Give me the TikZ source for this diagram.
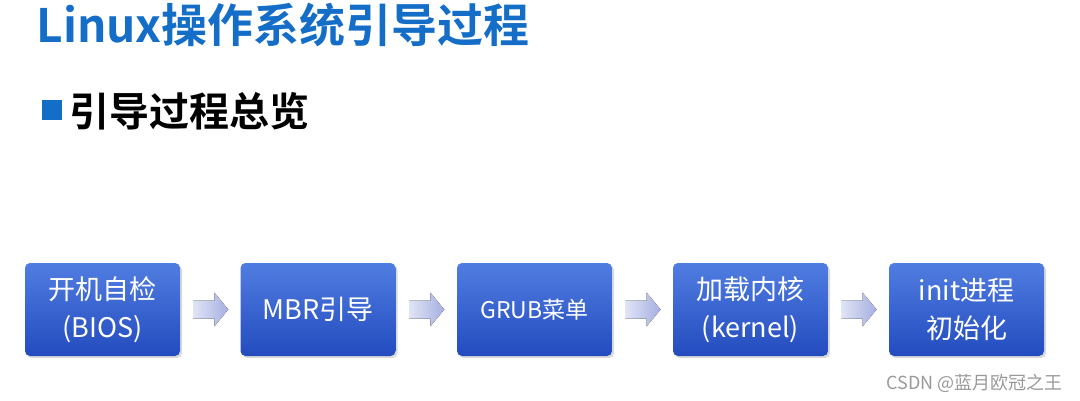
\documentclass[tikz,border=0pt]{standalone}
\usepackage{fontspec}
\setmainfont{Noto Sans CJK SC}
\newfontfamily\cjkb{Noto Sans CJK SC Bold}
\usetikzlibrary{shadows}
\definecolor{titleblue}{RGB}{20,110,200}
\definecolor{boxtop}{RGB}{80,125,225}
\definecolor{boxbot}{RGB}{35,75,190}
\definecolor{arrA}{RGB}{225,228,245}
\definecolor{arrB}{RGB}{165,175,225}
\tikzset{
 stage/.style={rounded corners=5pt, top color=boxtop, bottom color=boxbot, draw=none,
   minimum width=155pt, minimum height=93pt, text=white, align=center,
   font=\fontsize{27pt}{38pt}\selectfont, drop shadow={opacity=0.3,shadow xshift=2pt,shadow yshift=-2pt}},
 flow/.style={left color=arrA, right color=arrB, draw=none}
}
\begin{document}
\begin{tikzpicture}[x=1pt,y=-1pt]
\useasboundingbox (0,0) rectangle (1080,401);
\node[anchor=west, text=titleblue, font=\cjkb\fontsize{46pt}{48pt}\selectfont] (title) at (33,25) {Linux操作系统引导过程};
\fill[titleblue] (42,100) rectangle (62,120);
\node[anchor=west, font=\cjkb\fontsize{40pt}{42pt}\selectfont] (sub) at (66,111) {引导过程总览};
\node[stage] (s1) at (102.5,309.5) {开机自检\\(BIOS)};
\node[stage] (s2) at (318,309.5) {MBR引导};
\node[stage, font=\fontsize{23pt}{30pt}\selectfont] (s3) at (534.5,309.5) {GRUB菜单};
\node[stage] (s4) at (750.5,309.5) {加载内核\\(kernel)};
\node[stage] (s5) at (966.5,309.5) {init进程\\初始化};
\foreach \a/\b in {s1/s2,s2/s3,s3/s4,s4/s5}{
  \path (\a.east) -- (\b.west) coordinate[pos=0.5] (m);
  \fill[flow] ([xshift=-17pt,yshift=-9pt]m) -- ([xshift=4pt,yshift=-9pt]m) -- ([xshift=4pt,yshift=-17pt]m)
    -- ([xshift=18pt]m) -- ([xshift=4pt,yshift=17pt]m) -- ([xshift=4pt,yshift=9pt]m) -- ([xshift=-17pt,yshift=9pt]m) -- cycle;
}
\node[anchor=east, text=gray!80, font=\fontsize{18pt}{20pt}\selectfont] (wm) at (1066,383) {CSDN @蓝月欧冠之王};
\end{tikzpicture}
\end{document}
